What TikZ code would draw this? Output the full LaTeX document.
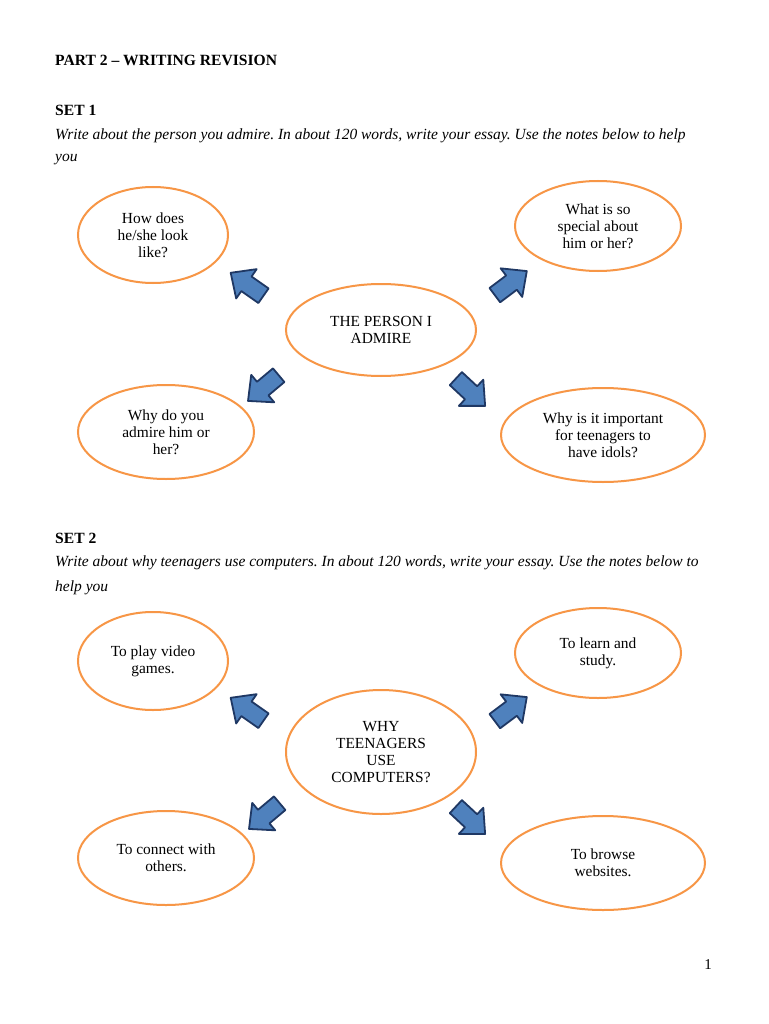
\documentclass[tikz,border=0pt]{standalone}
\usepackage{fontspec}
\setmainfont{Liberation Serif}
\usetikzlibrary{shapes.geometric,shapes.arrows}
\definecolor{ellorange}{HTML}{F79646}
\definecolor{arrblue}{HTML}{4F81BD}
\definecolor{arrnavy}{HTML}{1F3864}
\frenchspacing
\tikzset{
  note/.style={ellipse, draw=ellorange, line width=2pt, inner sep=0pt, align=center,
    font=\fontsize{15.4}{17}\selectfont},
  blockarrow/.style={single arrow, draw=arrnavy, fill=arrblue, line width=1.8pt,
    line join=round, inner sep=8pt, single arrow head extend=9pt,
    single arrow tip angle=86, minimum height=40pt},
  head/.style={anchor=west, inner sep=0pt, font=\fontsize{15.6}{18}\selectfont\bfseries},
  instr/.style={anchor=west, inner sep=0pt, font=\fontsize{15.5}{18}\selectfont\itshape},
}
\begin{document}
\begin{tikzpicture}[x=1pt,y=-1pt]
\useasboundingbox[fill=white] (0,0) rectangle (768,1024);

\node[head] (title) at (55,60) {PART 2 -- WRITING REVISION};
\node[head] (set1) at (55,110) {SET 1};
\node[instr] (ins1a) at (55,136) {Write about the person you admire. In about 120 words, write your essay. Use the notes below to help};
\node[instr] (ins1b) at (55,160) {you};

% Set 1
\node[note, minimum width=150pt, minimum height=96pt] (tl1) at (153,235) {How does\\he/she look\\like?};
\node[note, minimum width=166pt, minimum height=90pt] (tr1) at (598,226) {What is so\\special about\\him or her?};
\node[note, minimum width=190pt, minimum height=92pt] (c1) at (381,330) {THE PERSON I\\ADMIRE};
\node[note, minimum width=176pt, minimum height=94pt] (bl1) at (166,432) {Why do you\\admire him or\\her?};
\node[note, minimum width=204pt, minimum height=94pt] (br1) at (603,435) {Why is it important\\for teenagers to\\have idols?};

\node[blockarrow, rotate=145] (a1tl) at (251,287) {};
\node[blockarrow, rotate=37] (a1tr) at (507,286) {};
\node[blockarrow, rotate=220] (a1bl) at (267,385) {};
\node[blockarrow, rotate=317] (a1br) at (467,389) {};

\node[head] (set2) at (55,538) {SET 2};
\node[instr] (ins2a) at (55,563) {Write about why teenagers use computers. In about 120 words, write your essay. Use the notes below to};
\node[instr] (ins2b) at (55,588) {help you};

% Set 2
\node[note, minimum width=150pt, minimum height=98pt] (tl2) at (153,661) {To play video\\games.};
\node[note, minimum width=166pt, minimum height=90pt] (tr2) at (598,653) {To learn and\\study.};
\node[note, minimum width=190pt, minimum height=124pt] (c2) at (381,752) {WHY\\TEENAGERS\\USE\\COMPUTERS?};
\node[note, minimum width=176pt, minimum height=94pt] (bl2) at (166,858) {To connect with\\others.};
\node[note, minimum width=204pt, minimum height=94pt] (br2) at (603,863) {To browse\\websites.};

\node[blockarrow, rotate=145] (a2tl) at (251,712) {};
\node[blockarrow, rotate=37] (a2tr) at (507,712) {};
\node[blockarrow, rotate=220] (a2bl) at (268,813) {};
\node[blockarrow, rotate=317] (a2br) at (467,817) {};

\node[anchor=center, inner sep=0pt, font=\fontsize{15}{17}\selectfont] (pnum) at (708,965) {1};
\end{tikzpicture}
\end{document}
